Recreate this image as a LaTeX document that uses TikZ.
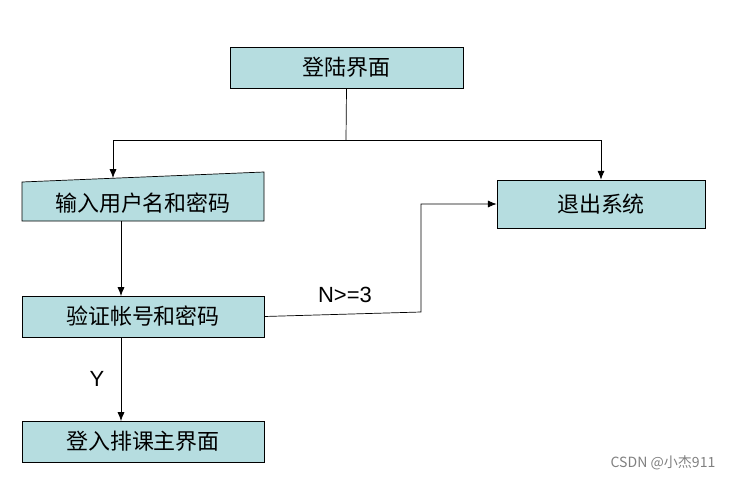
\documentclass[tikz,border=0pt]{standalone}
\usepackage{fontspec}
\setmainfont{Liberation Sans}
\newfontfamily\cjk{Noto Sans CJK SC}
\usetikzlibrary{arrows.meta, positioning, calc}
\definecolor{boxteal}{RGB}{182,221,224}

\begin{document}
\begin{tikzpicture}[
    x=0.02cm, y=-0.02cm,
    box/.style={
        rectangle, draw=black, fill=boxteal,
        minimum width=4.84cm, minimum height=0.82cm,
        font=\cjk\fontsize{12.5}{14}\selectfont, inner sep=0pt
    },
    arrow/.style={-{Latex[length=5pt,width=4pt]}, thin, color=black},
    line/.style={thin, color=black}
]
\useasboundingbox (0,0) rectangle (734,480);

% --- boxes ---
\node[box, minimum width=4.66cm] (login) at (346.5,67.5) {登陆界面};
\node[box, minimum width=4.16cm, minimum height=0.96cm] (quit) at (601,204) {退出系统};
\node[box] (check) at (143,316.5) {验证帐号和密码};
\node[box] (main) at (143,441.5) {登入排课主界面};

% --- manual input box ---
\draw[line, fill=boxteal] (22,182) -- (264,172) -- (264,221) -- (22,221) -- cycle;
\node[font=\cjk\fontsize{12.5}{14}\selectfont] (input) at (143,203) {输入用户名和密码};

% --- connectors ---
\coordinate (split) at (346,140);
\coordinate (inTop) at (113,178);
\coordinate (inBot) at (121,221);
\coordinate (chkTop) at (121,296);
\coordinate (chkBot) at (121,337);
\coordinate (mainTop) at (121,421);
\coordinate (bend) at (421,312);
\draw[line] (login.south) -- (split);
\draw[arrow] (split) -| (inTop);
\draw[arrow] (split) -| (quit.north);
\draw[arrow] (inBot) -- (chkTop);
\draw[arrow] (chkBot) -- node[left=6pt, font=\fontsize{12.5}{14}\selectfont] {Y} (mainTop);
\draw[arrow] (check.east) -- (bend) |- (quit.west);
\node[font=\fontsize{12.5}{14}\selectfont] (nlabel) at (345,295) {N>=3};

\node[font=\cjk\fontsize{8}{9}\selectfont, text=gray] (mark) at (663,463) {CSDN @小杰911};
\end{tikzpicture}
\end{document}
